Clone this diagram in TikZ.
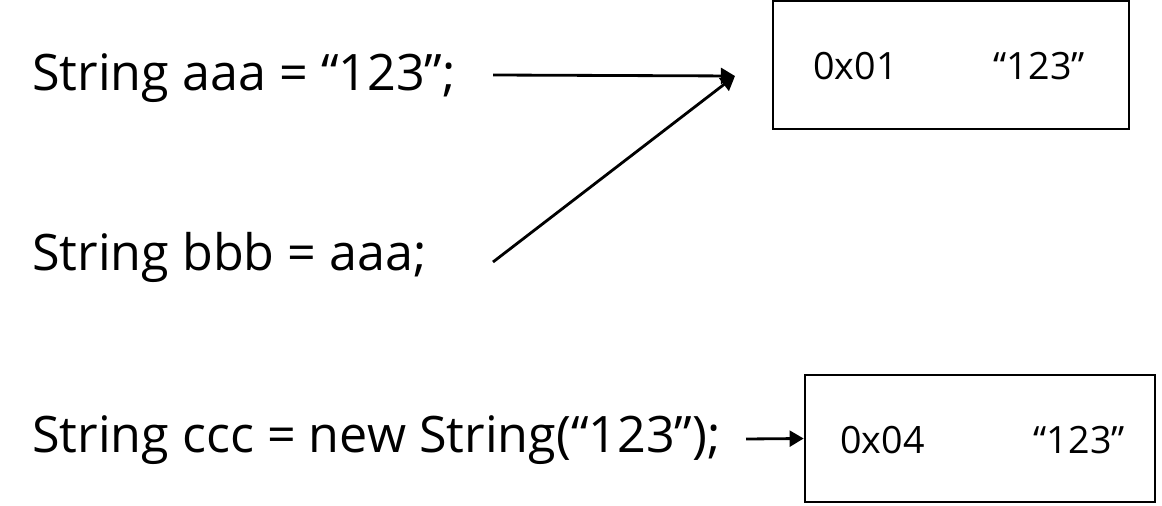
\documentclass[tikz,border=0pt]{standalone}
\usepackage{fontspec}
\setmainfont{Open Sans}
\usetikzlibrary{arrows.meta}

\tikzset{
    code/.style={font=\fontsize{28.6}{34}\selectfont, anchor=base west, inner sep=0pt},
    cell/.style={font=\fontsize{21.4}{26}\selectfont, inner sep=0pt},
    membox/.style={draw, line width=1.5pt, rectangle, inner sep=0pt},
    ref/.style={line width=1.6pt, -{Triangle[length=8pt,width=9pt]}}
}

\begin{document}
\begin{tikzpicture}
    \useasboundingbox (0, 0) rectangle (23.24, 10.1);
    % source lines
    \node[code] (aaaline) at (.64, 8.28){String aaa = “123”;};
    \node[code] (bbbline) at (.64, 4.68){String bbb = aaa;};
    \node[code] (cccline) at (.64, 1.06){String ccc = new String(“123”);};
    % heap cells
    \node[membox, minimum width=7.12cm, minimum height=2.56cm] (aaabox) at (19.02, 8.8){};
        \node[cell, anchor=base west] (aaaaddr) at (16.26, 8.5){0x01};
        \node[cell, anchor=base east] (aaaval) at (21.7, 8.5){“123”};
    \node[membox, minimum width=7cm, minimum height=2.54cm] (cccbox) at (19.6, 1.33){};
        \node[cell, anchor=base west] (cccaddr) at (16.8, 1.04){0x04};
        \node[cell, anchor=base east] (cccval) at (22.5, 1.04){“123”};
    % references
    \coordinate (aaatail) at (9.86, 8.6);
    \coordinate (bbbtail) at (9.86, 4.86);
    \coordinate (ccctail) at (14.92, 1.32);
    \coordinate (target) at (14.7, 8.58);
    \draw[ref] (aaatail) to (target);
    \draw[ref] (bbbtail) to (target);
    \draw[ref] (ccctail) to (cccbox.west);
\end{tikzpicture}
\end{document}
